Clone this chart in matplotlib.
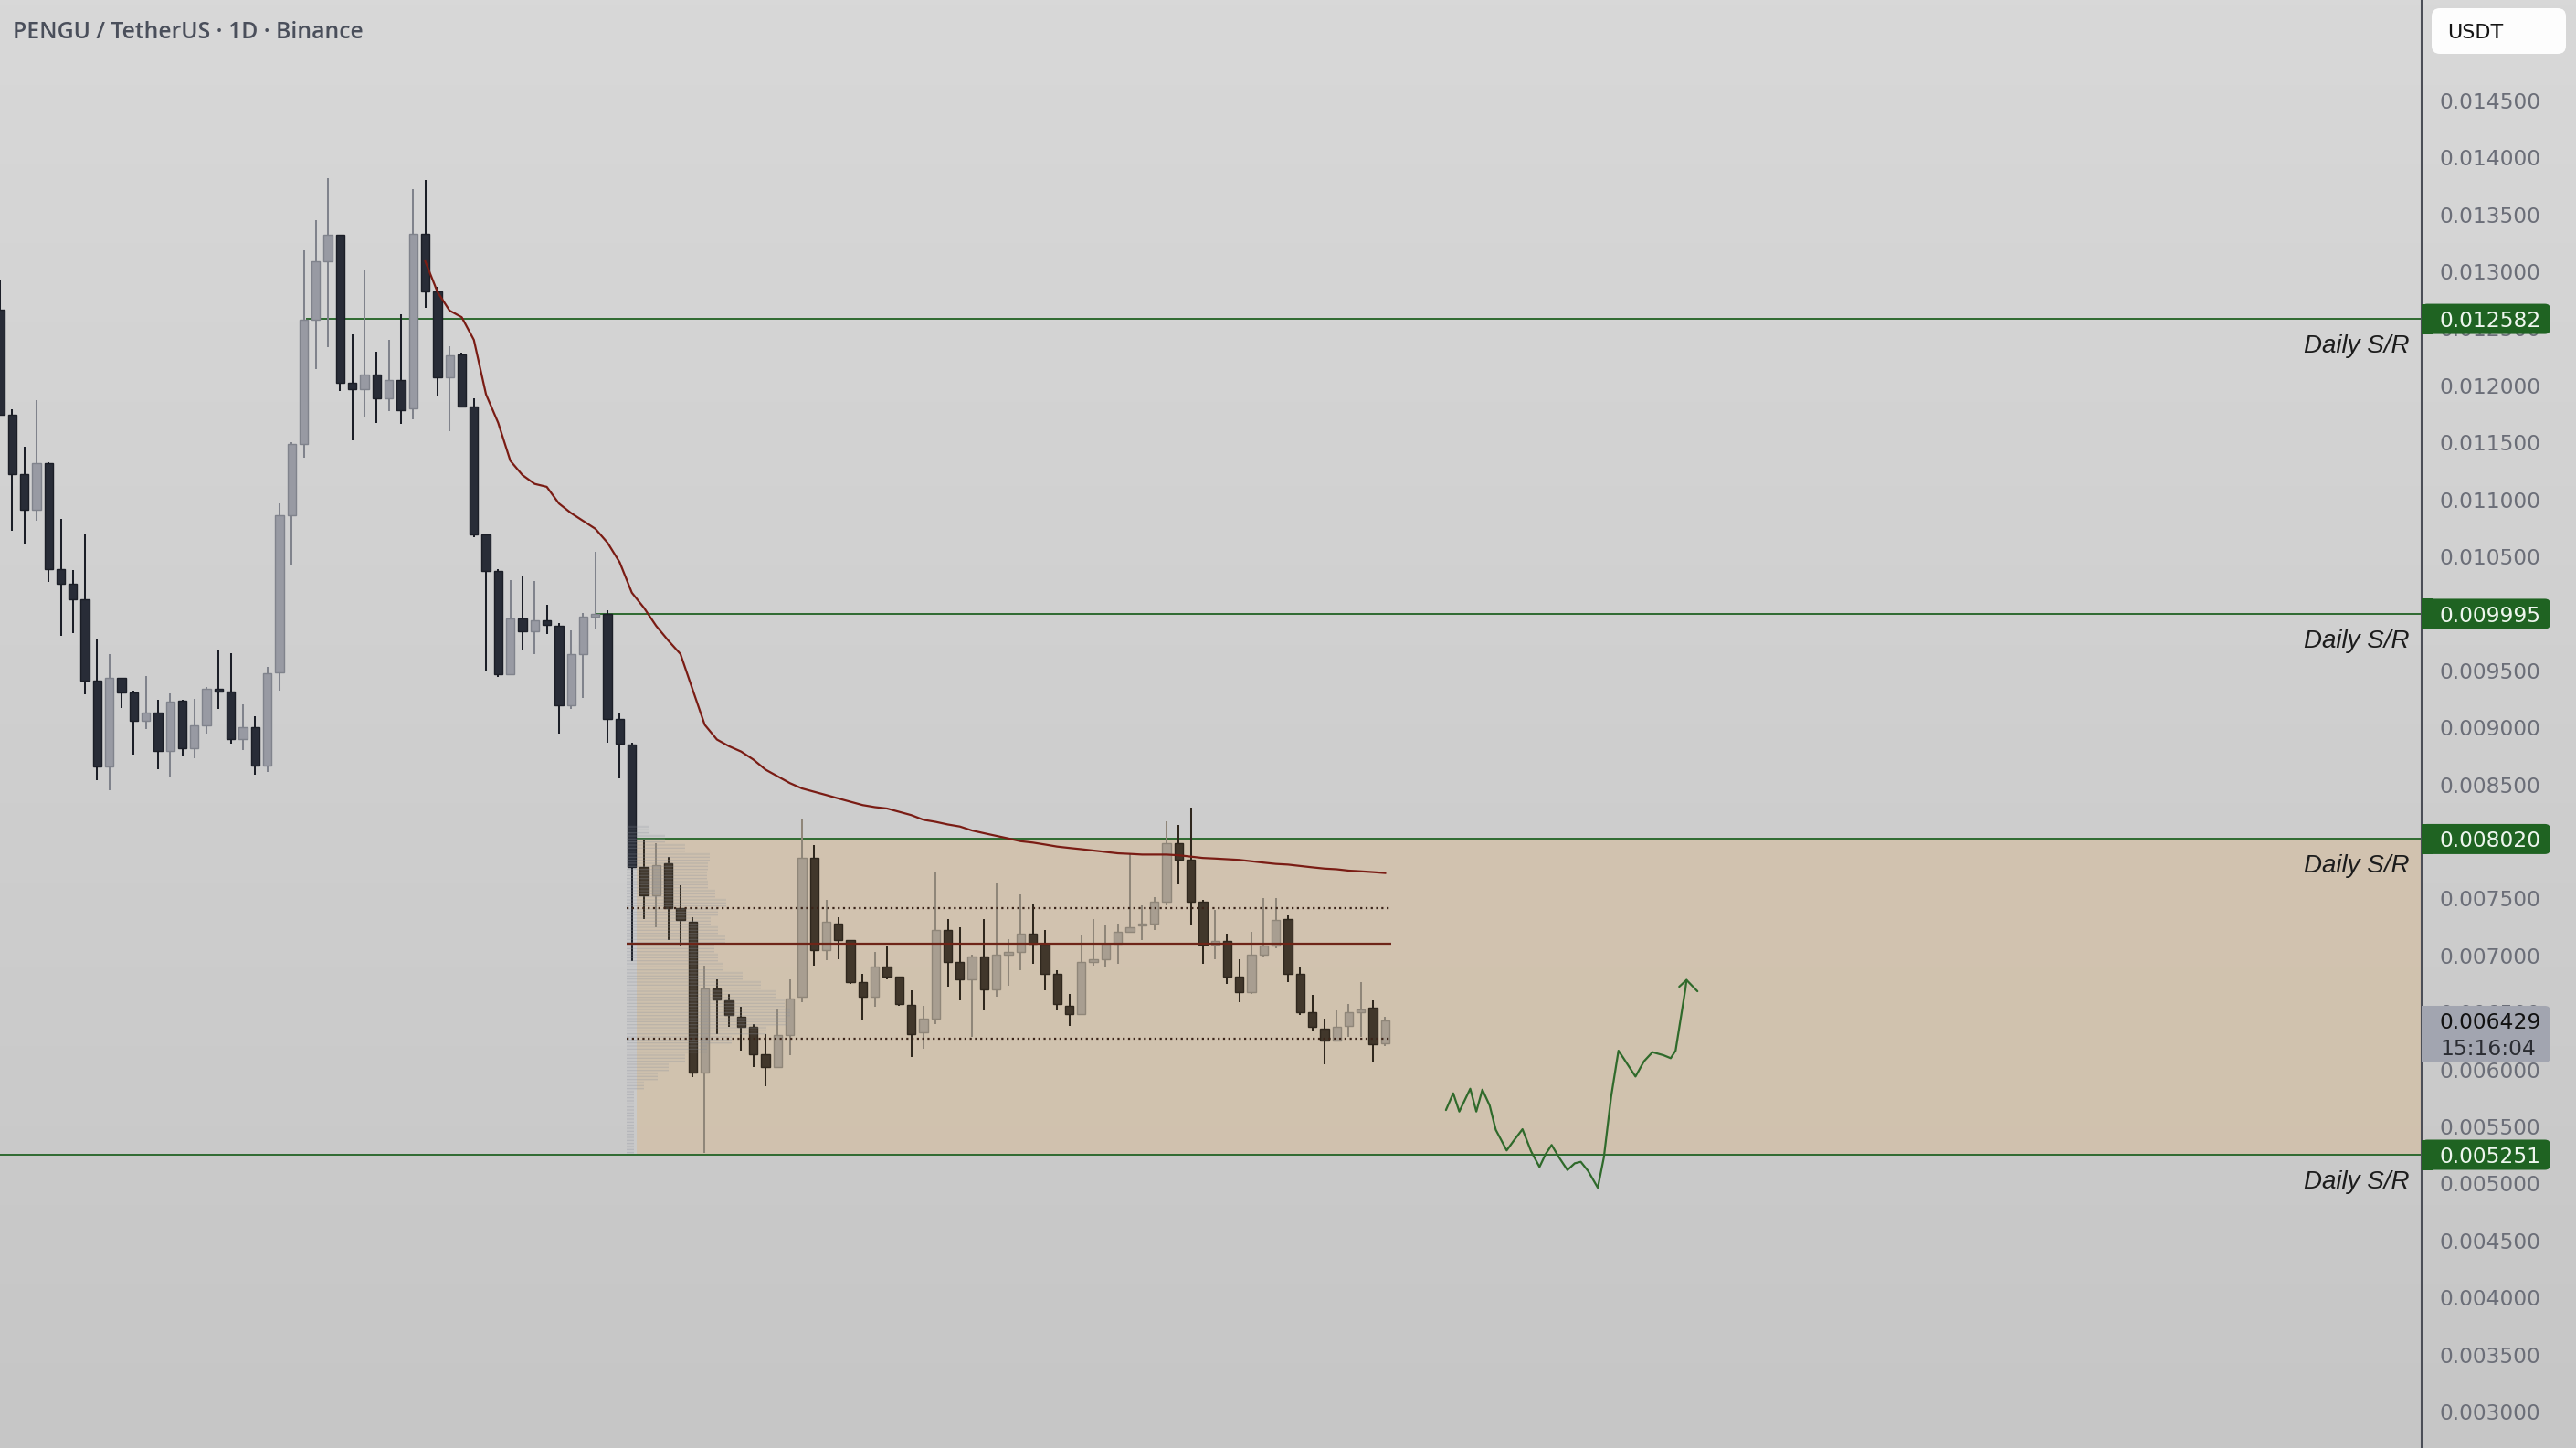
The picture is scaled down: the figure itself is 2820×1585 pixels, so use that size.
import numpy as np
import matplotlib.pyplot as plt
from matplotlib.patches import FancyBboxPatch, Rectangle
from matplotlib.transforms import IdentityTransform

# daily candles (index 0 = first visible bar)
opens = [0.012666, 0.011740, 0.011223, 0.010906, 0.011315, 0.010389, 0.010255, 0.010121, 0.009413, 0.008655,
         0.009432, 0.009306, 0.009061, 0.009126, 0.008789, 0.009230, 0.008820, 0.009019, 0.009336, 0.009310,
         0.008897, 0.009004, 0.008667, 0.009478, 0.010856, 0.011488, 0.012578, 0.013087, 0.013317, 0.012023,
         0.011966, 0.012092, 0.011882, 0.012046, 0.011794, 0.013324, 0.012819, 0.012073, 0.012272, 0.011813,
         0.010695, 0.010370, 0.009463, 0.009957, 0.009842, 0.009938, 0.009892, 0.009191, 0.009643, 0.009968,
         0.009995, 0.009076, 0.008852, 0.007778, 0.007526, 0.007808, 0.007415, 0.007297, 0.005972, 0.006711,
         0.006605, 0.006458, 0.006371, 0.006136, 0.006019, 0.006300, 0.006635, 0.007854, 0.007045, 0.007280,
         0.007133, 0.006763, 0.006635, 0.006898, 0.006810, 0.006564, 0.006324, 0.006441, 0.007221, 0.006939,
         0.006793, 0.006986, 0.006705, 0.007004, 0.007027, 0.007192, 0.007104, 0.006840, 0.006558, 0.006488,
         0.006945, 0.006969, 0.007104, 0.007209, 0.007262, 0.007280, 0.007473, 0.007984, 0.007837, 0.007473,
         0.007092, 0.007122, 0.006810, 0.006681, 0.007004, 0.007086, 0.007321, 0.006840, 0.006499, 0.006359,
         0.006253, 0.006382, 0.006505, 0.006538, 0.006226]
highs = [0.012930, 0.011786, 0.011461, 0.011870, 0.011327, 0.010829, 0.010378, 0.010703, 0.009769, 0.009643,
         0.009432, 0.009325, 0.009451, 0.009241, 0.009299, 0.009241, 0.009248, 0.009355, 0.009681, 0.009651,
         0.009203, 0.009096, 0.009528, 0.010963, 0.011499, 0.013183, 0.013451, 0.013814, 0.013317, 0.012448,
         0.013011, 0.012295, 0.012398, 0.012620, 0.013719, 0.013803, 0.012865, 0.012341, 0.012283, 0.011882,
         0.010695, 0.010389, 0.010293, 0.010332, 0.010282, 0.010075, 0.009915, 0.009853, 0.010006, 0.010542,
         0.010026, 0.009126, 0.008864, 0.008013, 0.007984, 0.007866, 0.007614, 0.007338, 0.006910, 0.006793,
         0.006664, 0.006546, 0.006400, 0.006312, 0.006535, 0.006793, 0.008189, 0.007966, 0.007485, 0.007338,
         0.007133, 0.006840, 0.007027, 0.007086, 0.006810, 0.006693, 0.006558, 0.007737, 0.007321, 0.007250,
         0.007004, 0.007321, 0.007632, 0.007145, 0.007532, 0.007444, 0.007221, 0.006869, 0.006664, 0.007180,
         0.007321, 0.007262, 0.007280, 0.007884, 0.007438, 0.007514, 0.008177, 0.008142, 0.008294, 0.007485,
         0.007397, 0.007192, 0.006969, 0.007203, 0.007503, 0.007503, 0.007350, 0.006898, 0.006652, 0.006441,
         0.006517, 0.006576, 0.006769, 0.006605, 0.006463]
lows = [0.011730, 0.010722, 0.010600, 0.010810, 0.010274, 0.009804, 0.009827, 0.009291, 0.008533, 0.008445,
        0.009172, 0.008763, 0.008985, 0.008636, 0.008564, 0.008744, 0.008725, 0.008942, 0.009164, 0.008858,
        0.008801, 0.008583, 0.008610, 0.009325, 0.010427, 0.011365, 0.012142, 0.012333, 0.011951, 0.011518,
        0.011717, 0.011671, 0.011775, 0.011660, 0.011698, 0.012678, 0.011912, 0.011595, 0.011805, 0.010665,
        0.009490, 0.009440, 0.009463, 0.009681, 0.009643, 0.009815, 0.008943, 0.009164, 0.009260, 0.009861,
        0.008866, 0.008552, 0.006946, 0.007321, 0.007250, 0.007133, 0.007074, 0.005931, 0.005268, 0.006312,
        0.006371, 0.006165, 0.006019, 0.005855, 0.006019, 0.006124, 0.006593, 0.006910, 0.006957, 0.006969,
        0.006752, 0.006429, 0.006546, 0.006793, 0.006558, 0.006107, 0.006183, 0.006400, 0.006722, 0.006605,
        0.006283, 0.006517, 0.006635, 0.006734, 0.006869, 0.006928, 0.006693, 0.006517, 0.006382, 0.006476,
        0.006910, 0.006898, 0.006928, 0.007209, 0.007133, 0.007221, 0.007438, 0.007620, 0.007262, 0.006928,
        0.006969, 0.006752, 0.006593, 0.006664, 0.006986, 0.007063, 0.006769, 0.006476, 0.006341, 0.006048,
        0.006242, 0.006283, 0.006283, 0.006063, 0.006204]
closes = [0.011740, 0.011223, 0.010906, 0.011315, 0.010389, 0.010255, 0.010121, 0.009413, 0.008655, 0.009432,
          0.009306, 0.009061, 0.009126, 0.008789, 0.009222, 0.008820, 0.009019, 0.009336, 0.009310, 0.008897,
          0.009004, 0.008667, 0.009471, 0.010856, 0.011488, 0.012578, 0.013087, 0.013317, 0.012023, 0.011966,
          0.012092, 0.011882, 0.012046, 0.011782, 0.013324, 0.012819, 0.012073, 0.012264, 0.011813, 0.010695,
          0.010370, 0.009463, 0.009957, 0.009842, 0.009938, 0.009899, 0.009191, 0.009643, 0.009968, 0.009995,
          0.009076, 0.008858, 0.007778, 0.007526, 0.007790, 0.007415, 0.007309, 0.005972, 0.006711, 0.006617,
          0.006476, 0.006371, 0.006136, 0.006019, 0.006300, 0.006623, 0.007854, 0.007045, 0.007291, 0.007133,
          0.006763, 0.006635, 0.006898, 0.006810, 0.006576, 0.006312, 0.006441, 0.007221, 0.006939, 0.006793,
          0.006986, 0.006705, 0.007004, 0.007027, 0.007192, 0.007104, 0.006840, 0.006576, 0.006488, 0.006945,
          0.006969, 0.007104, 0.007209, 0.007250, 0.007280, 0.007473, 0.007984, 0.007837, 0.007473, 0.007092,
          0.007122, 0.006810, 0.006681, 0.007004, 0.007086, 0.007309, 0.006840, 0.006499, 0.006371, 0.006253,
          0.006371, 0.006505, 0.006529, 0.006218, 0.006429]

# moving average, visible from bar 35 to the last bar
ma_first = 35
ma_values = [0.013087, 0.012819, 0.012655, 0.012597, 0.012398, 0.011920, 0.011671, 0.011338, 0.011212, 0.011135,
             0.011109, 0.010963, 0.010879, 0.010810, 0.010741, 0.010619, 0.010447, 0.010181, 0.010048, 0.009890,
             0.009761, 0.009643, 0.009332, 0.009022, 0.008893, 0.008834, 0.008787, 0.008717, 0.008629, 0.008570,
             0.008511, 0.008464, 0.008435, 0.008406, 0.008376, 0.008347, 0.008318, 0.008300, 0.008288, 0.008259,
             0.008230, 0.008189, 0.008171, 0.008148, 0.008130, 0.008095, 0.008071, 0.008048, 0.008025, 0.008001,
             0.007989, 0.007972, 0.007954, 0.007942, 0.007931, 0.007919, 0.007907, 0.007895, 0.007890, 0.007884,
             0.007884, 0.007884, 0.007878, 0.007866, 0.007854, 0.007849, 0.007843, 0.007837, 0.007825, 0.007813,
             0.007802, 0.007796, 0.007784, 0.007772, 0.007761, 0.007755, 0.007743, 0.007737, 0.007730, 0.007722]

# daily support / resistance levels and the bar where each line begins
sr_levels = [0.012582, 0.009995, 0.008020, 0.005251]
sr_starts = [25.2, 49.0, 52.4, 0.0]
range_top = 0.008020
range_bottom = 0.005251
range_start = 52.4

# volume profile of the range
vp_start = 51.6
vp_end = 114.5
vp_poc = 0.007100
vp_high = 0.007413
vp_low = 0.006268
vp_prices = [0.00810, 0.00802, 0.00794, 0.00786, 0.00778, 0.00770, 0.00762, 0.00754, 0.00746, 0.00738,
             0.00730, 0.00722, 0.00714, 0.00706, 0.00698, 0.00690, 0.00682, 0.00674, 0.00666, 0.00658,
             0.00650, 0.00642, 0.00634, 0.00626, 0.00618, 0.00610, 0.00602, 0.00594, 0.00586, 0.00578,
             0.00570, 0.00562, 0.00554, 0.00546, 0.00538, 0.00530]
vp_widths = [1.8, 3.1, 4.8, 6.8, 6.7, 6.6, 6.7, 7.3, 8.2, 7.5,
             6.9, 7.5, 8.1, 7.2, 7.5, 7.9, 9.5, 11.0, 12.3, 13.0,
             13.4, 13.2, 11.5, 8.6, 6.6, 4.8, 3.4, 2.5, 1.4, 0.6,
             0.6, 0.6, 0.6, 0.6, 0.6, 0.6]

# hand drawn projection
path_x = [119.0, 119.6, 120.1, 121.0, 121.5, 122.0, 122.6, 123.1, 124.0, 124.6, 125.3, 126.0, 126.7, 127.2,
          127.7, 128.3, 129.0, 129.6, 130.1, 130.7, 131.5, 132.0, 132.6, 133.2, 133.7, 134.6, 135.3, 136.0,
          136.9, 137.5, 137.9, 138.3, 138.7, 138.8]
path_y = [0.005643, 0.005790, 0.005630, 0.005830, 0.005630, 0.005822, 0.005683, 0.005470, 0.005289, 0.005377,
          0.005475, 0.005283, 0.005144, 0.005256, 0.005337, 0.005229, 0.005117, 0.005176, 0.005189, 0.005109,
          0.004962, 0.005229, 0.005763, 0.006164, 0.006084, 0.005937, 0.006071, 0.006151, 0.006124, 0.006098,
          0.006164, 0.006431, 0.006699, 0.006784]
arrow_x = [138.2, 138.8, 139.7]
arrow_y = [0.006725, 0.006784, 0.006685]

price_ticks = [0.0030, 0.0035, 0.0040, 0.0045, 0.0050, 0.0055, 0.0060, 0.0065, 0.0070, 0.0075, 0.0080,
               0.0085, 0.0090, 0.0095, 0.0100, 0.0105, 0.0110, 0.0115, 0.0120, 0.0125, 0.0130, 0.0135,
               0.0140, 0.0145]
last_price = 0.006429
countdown = '15:16:04'
title = 'PENGU / TetherUS · 1D · Binance'

#%%
W, H = 2820, 1585
plot_w = 2651
ymin, ymax = 0.002679, 0.015379
xmax = 199.3
plt.rcParams['hatch.linewidth'] = 0.8

fig = plt.figure(figsize=(W / 100, H / 100), dpi=100)

bg = fig.add_axes([0, 0, 1, 1], zorder=-10)
t = np.linspace(0, 1, 256)[:, None, None]
top_c = np.array([216, 216, 216]) / 255
bot_c = np.array([198, 198, 198]) / 255
bg.imshow(top_c + (bot_c - top_c) * t, aspect='auto', extent=[0, 1, 0, 1])
bg.axis('off')

ax = fig.add_axes([0, 0, plot_w / W, 1])
ax.set_facecolor('none')
ax.set_xlim(0, xmax)
ax.set_ylim(ymin, ymax)

# range box
ax.add_patch(Rectangle((range_start, range_bottom), 300, range_top - range_bottom,
                       facecolor='#d3bfa4', alpha=0.72, lw=0, zorder=1))

for lvl, x0 in zip(sr_levels, sr_starts):
    ax.hlines(lvl, x0, xmax, color='#2e6a30', lw=1.4, zorder=2)

# candles
o = np.array(opens)
h = np.array(highs)
l = np.array(lows)
c = np.array(closes)
x = np.arange(len(o))
up = c >= o
inside = x >= 53
body_col = np.where(inside, np.where(up, '#a89e91', '#41372b'), np.where(up, '#989aa3', '#282c37'))
edge_col = np.where(inside, np.where(up, '#8f8679', '#2f271d'), np.where(up, '#80838c', '#1b1e27'))
ax.vlines(x, l, h, colors=edge_col, lw=1.45, zorder=3)
ax.bar(x, np.abs(c - o), bottom=np.minimum(o, c), width=0.7, color=body_col,
       edgecolor=edge_col, linewidth=1.0, zorder=4)

# volume profile, thin faint rows drawn over the candles
ax.barh(vp_prices, vp_widths, height=0.00008, left=vp_start, color=(0.55, 0.57, 0.6, 0.04), lw=0, zorder=5)
ax.barh(vp_prices, vp_widths, height=0.00008, left=vp_start, facecolor='none',
        edgecolor=(0.55, 0.57, 0.61, 0.30), hatch='-----', lw=0, zorder=5)

ax.hlines(vp_poc, vp_start, vp_end, color='#6e2518', lw=1.6, zorder=6)
ax.hlines([vp_high, vp_low], vp_start, vp_end, colors='#3b2419', linestyles=(0, (1, 1.6)), lw=1.6, zorder=6)

ax.plot(np.arange(ma_first, ma_first + len(ma_values)), ma_values, color='#7a1c14', lw=1.6, zorder=6)

ax.plot(path_x, path_y, color='#2f6a2b', lw=1.6, zorder=6, solid_capstyle='round', solid_joinstyle='round')
ax.plot(arrow_x, arrow_y, color='#2f6a2b', lw=1.6, zorder=6, solid_capstyle='round')

for lvl in sr_levels:
    ax.annotate('Daily S/R', xy=(1, lvl), xycoords=('axes fraction', 'data'), xytext=(-14, -37),
                textcoords='offset pixels', ha='right', va='baseline', fontsize=20, style='italic',
                family='Liberation Sans', color='#1c1c1c', zorder=7)

# price scale
ax.yaxis.tick_right()
ax.set_yticks(price_ticks)
ax.set_yticklabels([f'{v:.6f}' for v in price_ticks])
ax.tick_params(axis='y', length=0, pad=14.4, labelsize=16.8, labelcolor='#6b6e78')
ax.set_xticks([])
for side in ['top', 'left', 'bottom']:
    ax.spines[side].set_visible(False)
ax.spines['right'].set_color('#4b4e57')
ax.spines['right'].set_linewidth(1.5)

px = IdentityTransform()


def price_px(p):
    return (p - ymin) / (ymax - ymin) * H


def label_box(y0, height, color):
    fig.add_artist(FancyBboxPatch((plot_w, y0), 141, height, boxstyle='round,pad=0,rounding_size=6',
                                  transform=px, fc=color, ec='none', zorder=3))
    fig.add_artist(Rectangle((plot_w, y0), 12, height, transform=px, fc=color, ec='none', zorder=3))


for lvl in sr_levels:
    yc = price_px(lvl)
    label_box(yc - 16.5, 33, '#1f6322')
    fig.text(2671, yc, f'{lvl:.6f}', transform=px, color='#eef6ee', fontsize=16.8,
             va='center_baseline', ha='left', zorder=4)

yc = price_px(last_price)
label_box(yc - 46, 62, '#a2a5b0')
fig.text(2671, yc, f'{last_price:.6f}', transform=px, color='#111111', fontsize=16.8,
         va='center_baseline', ha='left', zorder=4)
fig.text(2671, yc - 29, countdown, transform=px, color='#2b2d33', fontsize=16.8,
         va='center_baseline', ha='left', zorder=4)

fig.add_artist(FancyBboxPatch((2662, H - 59), 147, 50, boxstyle='round,pad=0,rounding_size=9',
                              transform=px, fc='#fdfdfd', ec='none', zorder=3))
fig.text(2679, H - 34, 'USDT', transform=px, color='#151515', fontsize=16,
         va='center_baseline', ha='left', zorder=4)

fig.text(14, H - 32, title, transform=px, color='#4a4f5b', fontsize=17.8, family='Open Sans',
         weight='semibold', va='center_baseline', ha='left', zorder=4)

plt.savefig('out.png', dpi=100)
